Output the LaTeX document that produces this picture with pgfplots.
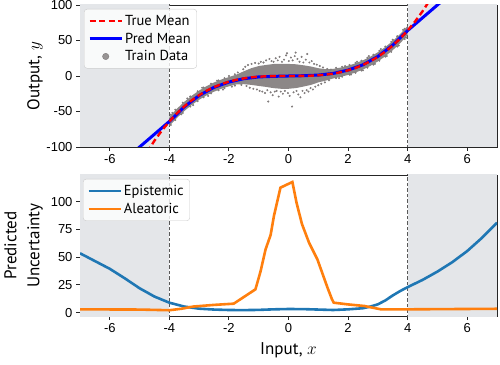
\documentclass[border=0pt]{standalone}
\usepackage{pgfplots}
\pgfplotsset{compat=1.18}
\usepackage{fontspec}
\setmainfont{PT Sans}
\newfontfamily\tickfont{Liberation Sans}

\definecolor{ptgray}{RGB}{128,123,123}
\definecolor{bandgray}{RGB}{140,135,135}
\definecolor{shade}{RGB}{228,230,233}
\definecolor{tabblue}{RGB}{31,119,180}
\definecolor{taborange}{RGB}{255,127,14}
\definecolor{spine}{RGB}{38,38,38}

\pgfplotsset{
  panel/.style={
    width=417pt, scale only axis,
    xmin=-7, xmax=7,
    xtick={-6,-4,...,6},
    tick pos=left, tick align=outside,
    major tick length=4pt,
    axis line style={spine, line width=0.9pt},
    every tick/.style={spine, line width=0.9pt},
    tick label style={font=\tickfont\fontsize{13}{13}\selectfont},
    /pgf/number format/assume math mode=true,
    label style={font=\fontsize{17}{23}\selectfont},
    legend cell align=left,
    legend style={font=\fontsize{14.5}{16}\selectfont, draw=black!20,
      rounded corners=3pt, fill=white, fill opacity=0.8, text opacity=1,
      anchor=north west, row sep=2pt, inner sep=4pt},
    legend image code/.code={\draw[#1] (0pt,0pt) -- (32pt,0pt);},
  },
  vline/.style={black!65, line width=0.75pt, dash pattern=on 3.5pt off 2pt},
}

\begin{document}
\begin{tikzpicture}
\path[use as bounding box] (0,0) rectangle (500pt,364pt);

% ---- top panel: mean
\begin{axis}[panel, height=142pt, at={(80pt,217pt)}, anchor=south west,
    ymin=-100, ymax=100, ytick={-100,-50,...,100},
    ylabel={Output, $y$},
    y label style={at={(axis description cs:-0.108,0.5)}, anchor=center},
    legend style={at={(axis description cs:0.0096,0.972)}},
  ]
  \addplot[fill=shade, draw=none, forget plot] coordinates {(-7,-110) (-4,-110) (-4,110) (-7,110)};
  \addplot[fill=shade, draw=none, forget plot] coordinates {(4,-110) (7,-110) (7,110) (4,110)};
  \addplot[vline, forget plot] coordinates {(-4,-110) (-4,110)};
  \addplot[vline, forget plot] coordinates {(4,-110) (4,110)};

  % dense part of the training data
  \addplot[fill=bandgray, draw=none, forget plot] coordinates {
    (-4,-57.5) (-3.75,-46.2) (-3.5,-36.4) (-3.25,-27.8) (-3,-20.5) (-2.75,-14.3)
    (-2.5,-9.1) (-2.25,-4.9) (-2,-1.5) (-1.75,2) (-1.5,6.6) (-1.25,11)
    (-1,14) (-0.75,15.6) (-0.5,16.9) (-0.25,17) (0,17) (0.25,16.5) (0.5,15.1)
    (0.75,13.4) (1,11) (1.25,9.5) (1.5,10) (1.75,11.9) (2,14.5) (2.25,17.9)
    (2.5,22.1) (2.75,27.3) (3,33.5) (3.25,40.8) (3.5,49.4) (3.75,59.2) (4,70.5)
    (4,57.5) (3.75,46.2) (3.5,36.4) (3.25,27.8) (3,20.5) (2.75,14.3) (2.5,9.1)
    (2.25,4.9) (2,1.5) (1.75,-1.2) (1.5,-3.5) (1.25,-6.5) (1,-9) (0.75,-12.6)
    (0.5,-14.9) (0.25,-17) (0,-18) (-0.25,-18) (-0.5,-17.1) (-0.75,-15.4)
    (-1,-14) (-1.25,-12.5) (-1.5,-11.5) (-1.75,-11.9) (-2,-14.5) (-2.25,-17.9)
    (-2.5,-22.1) (-2.75,-27.3) (-3,-33.5) (-3.25,-40.8) (-3.5,-49.4)
    (-3.75,-59.2) (-4,-70.5)
  };
  % scattered training points
  \addplot[ptgray, only marks, mark=*, mark size=0.8pt, mark options={draw=none, fill=ptgray}, forget plot] coordinates {
    (-3.95,-69) (-3.95,-54.5) (-3.8,-47.5) (-3.8,-62) (-3.55,-52) (-3.55,-37.5)
    (-3.3,-28.8) (-3.3,-43) (-3.05,-35.5) (-3.05,-21.5) (-2.85,-16.2) (-2.85,-30)
    (-2.6,-24.5) (-2.6,-10.8) (-2.35,-6.2) (-2.35,-20) (-2.15,-17) (-2.15,-3)
    (-1.8,-13.5) (-1.8,2.5) (-3.9,-52) (-3.6,-54) (-3.4,-31.5) (-3.2,-41)
    (-2.9,-16.5) (-2.7,-28) (-2.4,-6.5) (-2.2,-19) (-2.0,0) (-1.9,-15) (-1.7,5)
    (1.6,-3) (1.6,11.5) (1.8,-1) (1.8,13) (2.05,1.8) (2.05,15.5) (2.25,4.5)
    (2.25,18.5) (2.45,21.5) (2.45,7.8) (2.65,11.7) (2.65,25.7) (2.85,30)
    (2.85,16) (3.05,35.5) (3.05,21.5) (3.25,27.3) (3.25,41.5) (3.45,48)
    (3.45,34) (3.65,41.5) (3.65,56) (3.9,66.5) (3.9,52) (1.7,-3) (1.9,14)
    (2.1,2) (2.3,20) (2.5,8) (2.7,28) (2.9,17) (3.1,38) (3.3,28) (3.5,51)
    (3.7,43) (3.85,65) (3.95,54)
    (-1.58,-12.5) (-1.52,9.5) (-1.45,13) (-1.41,-14) (-1.36,15.5) (-1.3,-16.5)
    (-1.24,17) (-1.18,-18) (-1.12,18.5) (-1.06,-19) (-1.0,17.5) (-0.97,-21)
    (-0.93,20) (-0.88,-22) (-0.84,19) (-0.79,-24) (-0.75,22) (-0.71,-20)
    (-0.68,-36) (-0.64,24) (-0.6,-23) (-0.57,21) (-0.53,-27) (-0.5,20)
    (-0.46,-22) (-0.43,25) (-0.4,-21) (-0.36,22) (-0.33,-29) (-0.3,27)
    (-0.26,-22) (-0.22,20) (-0.19,-25) (-0.15,23) (-0.12,-21) (-0.08,29)
    (-0.05,32) (-0.02,-24) (0.01,21) (0.04,-28) (0.08,26) (0.12,-43) (0.14,22)
    (0.17,-23) (0.21,28) (0.24,33) (0.27,-21) (0.3,24) (0.33,-26) (0.37,20)
    (0.4,-30) (0.44,27) (0.47,-21) (0.5,19) (0.54,-24) (0.58,23) (0.61,-20)
    (0.63,31) (0.67,-22) (0.7,19) (0.74,-17) (0.78,21) (0.82,-19) (0.86,17)
    (0.9,-15) (0.95,16) (1.0,-13) (1.05,14) (1.1,-11) (1.16,12) (1.22,-9)
    (1.3,10) (1.36,-6) (1.42,9)
  };
  % predicted mean
  \addplot[blue, line width=3pt, forget plot] coordinates {
    (-5.5,-118) (-5,-100) (-4.5,-82) (-4,-64) (-3.5,-43.5) (-3,-27.5)
    (-2.5,-16) (-2,-8.5) (-1.5,-3.8) (-1,-1.3) (-0.5,-0.5) (0,0) (0.5,0.4)
    (1,1.3) (1.5,3.6) (2,8.3) (2.5,15.8) (3,27.5) (3.5,43.5) (4,64)
    (4.5,82) (5,100) (5.5,118)
  };
  % true mean x^3
  \addplot[red, line width=2.4pt, dash pattern=on 6pt off 3.5pt, forget plot] coordinates {
    (-4.75,-107.2) (-4.5,-91.13) (-4.25,-76.77) (-4,-64) (-3.75,-52.73)
    (-3.5,-42.88) (-3.25,-34.33) (-3,-27) (-2.75,-20.80) (-2.5,-15.63)
    (-2.25,-11.39) (-2,-8) (-1.75,-5.36) (-1.5,-3.38) (-1.25,-1.95) (-1,-1)
    (-0.75,-0.42) (-0.5,-0.13) (-0.25,-0.02) (0,0) (0.25,0.02) (0.5,0.13)
    (0.75,0.42) (1,1) (1.25,1.95) (1.5,3.38) (1.75,5.36) (2,8) (2.25,11.39)
    (2.5,15.63) (2.75,20.80) (3,27) (3.25,34.33) (3.5,42.88) (3.75,52.73)
    (4,64) (4.25,76.77) (4.5,91.13) (4.75,107.2)
  };
  \addlegendimage{red, line width=2.4pt, dash pattern=on 6pt off 3.5pt}
  \addlegendentry{True Mean}
  \addlegendimage{blue, line width=3pt}
  \addlegendentry{Pred Mean}
  \addlegendimage{legend image code/.code={\fill[ptgray] (16pt,0pt) circle (3.2pt);}}
  \addlegendentry{Train Data}
\end{axis}

% ---- bottom panel: uncertainty
\begin{axis}[panel, height=141pt, at={(80pt,48pt)}, anchor=south west,
    ymin=-3, ymax=124, ytick={0,25,...,100},
    ylabel={Predicted\\Uncertainty},
    y label style={at={(axis description cs:-0.1355,0.5)}, anchor=center, align=center},
    xlabel={Input, $x$},
    x label style={at={(axis description cs:0.5,-0.24)}, anchor=center},
    legend style={at={(axis description cs:0.0072,0.972)}},
  ]
  \addplot[fill=shade, draw=none, forget plot] coordinates {(-7,-10) (-4,-10) (-4,130) (-7,130)};
  \addplot[fill=shade, draw=none, forget plot] coordinates {(4,-10) (7,-10) (7,130) (4,130)};
  \addplot[vline, forget plot] coordinates {(-4,-10) (-4,130)};
  \addplot[vline, forget plot] coordinates {(4,-10) (4,130)};

  \addplot[tabblue, line width=2.6pt] coordinates {
    (-7,53.5) (-6.5,46.5) (-6,39.5) (-5.5,31) (-5,22) (-4.5,14.5) (-4,9)
    (-3.5,5.5) (-3,3.6) (-2.5,2.8) (-2,2.4) (-1.5,2.3) (-1,2.5) (-0.5,3)
    (0,3.3) (0.5,3.2) (1,2.8) (1.5,2.4) (2,3) (2.5,4) (2.75,5.5) (3,7.5)
    (3.25,11) (3.5,15.5) (3.75,19.5) (4,23) (4.5,29.5) (5,37) (5.5,45.5)
    (6,55.5) (6.5,67.5) (7,81)
  };
  \addlegendentry{Epistemic}
  \addplot[taborange, line width=2.6pt] coordinates {
    (-7,3) (-5,2.8) (-4,2.2) (-3.6,3.5) (-3.2,5.5) (-2.5,7) (-1.84,8.1)
    (-1.28,18) (-1.11,21) (-0.94,37) (-0.77,57) (-0.6,70) (-0.49,87)
    (-0.27,112.6) (0.13,117.7) (0.27,99) (0.45,80) (0.69,63) (0.97,48)
    (1.31,22.5) (1.46,12) (1.52,9) (1.98,7.5) (2.55,6) (3.1,3) (4,3) (7,3.5)
  };
  \addlegendentry{Aleatoric}
\end{axis}
\end{tikzpicture}
\end{document}
